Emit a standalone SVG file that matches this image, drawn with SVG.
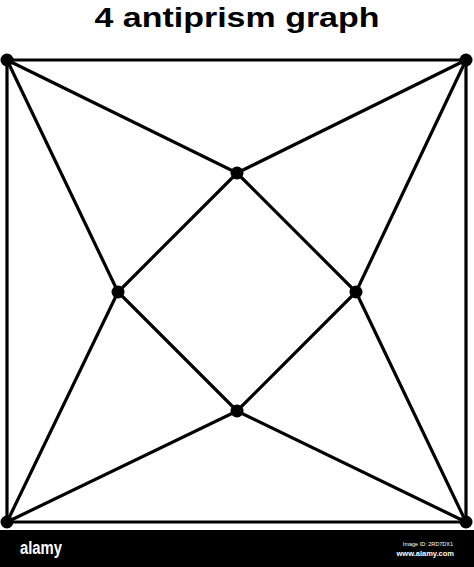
<svg xmlns="http://www.w3.org/2000/svg" width="474" height="567" viewBox="0 0 474 567">
<style>
.e{stroke:#000;stroke-width:3.2;fill:none;stroke-linecap:round}
.n{fill:#000}
.t{font-family:"Liberation Sans",Arial,sans-serif;font-weight:bold}
</style>
<rect width="474" height="567" fill="#fff"/>
<text class="t" x="237" y="27" font-size="27" text-anchor="middle" textLength="285" lengthAdjust="spacingAndGlyphs">4 antiprism graph</text>
<g id="edges">
<path class="e" d="M7 60H466V522H7Z"/>
<path class="e" d="M7 60L237 173L466 60M466 60L356 292L466 522M466 522L237 411L7 522M7 522L118 292L7 60"/>
<path class="e" d="M237 173L356 292L237 411L118 292Z"/>
</g>
<g id="n1"><circle class="n" cx="7" cy="60" r="6.5"/></g>
<g id="n2"><circle class="n" cx="466" cy="60" r="6.5"/></g>
<g id="n3"><circle class="n" cx="466" cy="522" r="6.5"/></g>
<g id="n4"><circle class="n" cx="7" cy="522" r="6.5"/></g>
<g id="n5"><circle class="n" cx="237" cy="173" r="6.5"/></g>
<g id="n6"><circle class="n" cx="356" cy="292" r="6.5"/></g>
<g id="n7"><circle class="n" cx="237" cy="411" r="6.5"/></g>
<g id="n8"><circle class="n" cx="118" cy="292" r="6.5"/></g>
<rect x="0" y="530" width="474" height="37" fill="#000"/>
<text x="20" y="554" font-family="'Liberation Sans Narrow','Liberation Sans',sans-serif" font-weight="bold" font-size="18" fill="#fff" textLength="42" lengthAdjust="spacingAndGlyphs">alamy</text>
<text x="453" y="546" font-family="'Liberation Sans',sans-serif" font-size="5.5" fill="#fff" text-anchor="end">Image ID: 2RD7DX1</text>
<text x="454" y="556" font-family="'Liberation Sans',sans-serif" font-weight="bold" font-size="7.5" fill="#fff" text-anchor="end">www.alamy.com</text>
</svg>
